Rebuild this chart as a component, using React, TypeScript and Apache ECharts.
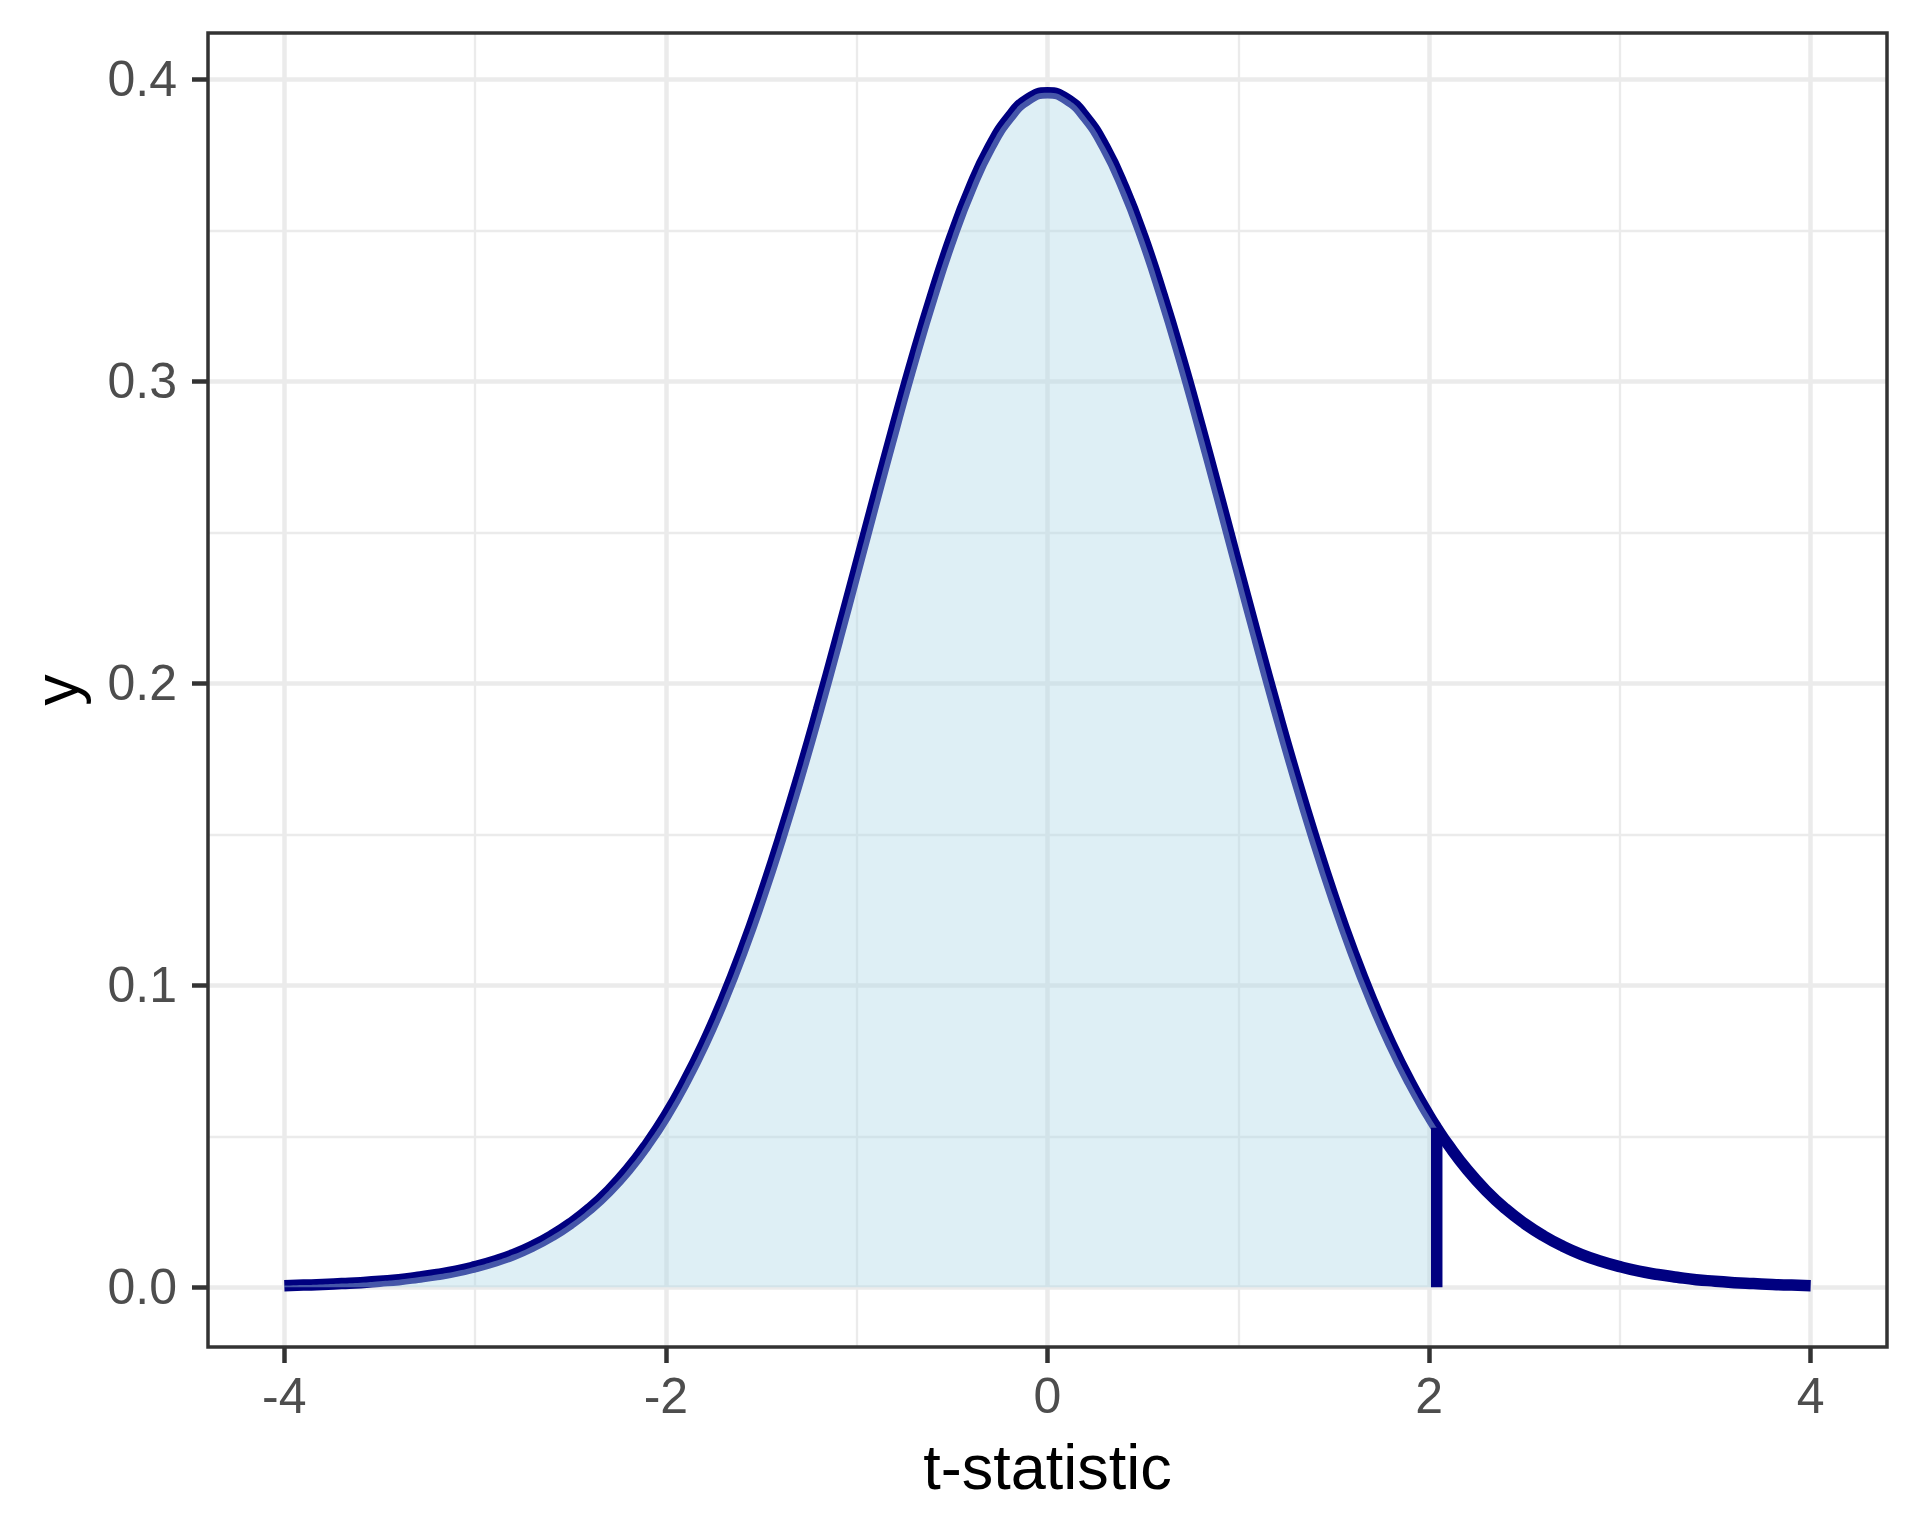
import { useEffect, useRef } from 'react';
import * as echarts from 'echarts';

// t-values and density
const tValues = [
    -4, -3.9, -3.8, -3.7, -3.6, -3.5, -3.4, -3.3, -3.2, -3.1,
    -3, -2.9, -2.8, -2.7, -2.6, -2.5, -2.4, -2.3, -2.2, -2.1,
    -2, -1.9, -1.8, -1.7, -1.6, -1.5, -1.4, -1.3, -1.2, -1.1,
    -1, -0.9, -0.8, -0.7, -0.6, -0.5, -0.4, -0.3, -0.2, -0.1,
    0, 0.1, 0.2, 0.3, 0.4, 0.5, 0.6, 0.7, 0.8, 0.9,
    1, 1.1, 1.2, 1.3, 1.4, 1.5, 1.6, 1.7, 1.8, 1.9,
    2, 2.04, 2.1, 2.2, 2.3, 2.4, 2.5, 2.6, 2.7, 2.8, 2.9,
    3, 3.1, 3.2, 3.3, 3.4, 3.5, 3.6, 3.7, 3.8, 3.9, 4,
];
const density = [
    0.0005, 0.0007, 0.0009, 0.0012, 0.0015, 0.002, 0.0025, 0.0033, 0.0042, 0.0053,
    0.0068, 0.0086, 0.0108, 0.0136, 0.017, 0.0211, 0.026, 0.0319, 0.0389, 0.0472,
    0.0568, 0.068, 0.0807, 0.0951, 0.1112, 0.129, 0.1484, 0.1692, 0.1913, 0.2144,
    0.238, 0.2618, 0.2852, 0.3078, 0.3288, 0.3479, 0.3643, 0.3777, 0.3875, 0.3936,
    0.3956, 0.3936, 0.3875, 0.3777, 0.3643, 0.3479, 0.3288, 0.3078, 0.2852, 0.2618,
    0.238, 0.2144, 0.1913, 0.1692, 0.1484, 0.129, 0.1112, 0.0951, 0.0807, 0.068,
    0.0568, 0.0528, 0.0472, 0.0389, 0.0319, 0.026, 0.0211, 0.017, 0.0136, 0.0108, 0.0086,
    0.0068, 0.0053, 0.0042, 0.0033, 0.0025, 0.002, 0.0015, 0.0012, 0.0009, 0.0007, 0.0005,
];

// critical value where the shaded region stops
const critT = 2.04;
const critY = 0.0528;

const xTicks = [-4, -2, 0, 2, 4];
const xMinorTicks = [-3, -1, 1, 3];
const yTicks = [0, 0.1, 0.2, 0.3, 0.4];
const yMinorTicks = [0.05, 0.15, 0.25, 0.35];

const FONT = '"Liberation Sans", Arial, sans-serif';

const App = () => {
    const chartRef = useRef<HTMLDivElement>(null);

    useEffect(() => {
        const chart = echarts.init(chartRef.current!, null, {renderer: 'svg'});

        const curve = tValues.map((t, i) => [t, density[i]]);
        const shaded = curve.filter(p => p[0] <= critT);

        const major = {color: '#EBEBEB', width: 4.5, type: 'solid'};
        const minor = {color: '#EBEBEB', width: 2.3, type: 'solid'};
        const gridLines = [
            ...xMinorTicks.map(v => ({xAxis: v, lineStyle: minor})),
            ...yMinorTicks.map(v => ({yAxis: v, lineStyle: minor})),
            ...xTicks.map(v => ({xAxis: v, lineStyle: major})),
            ...yTicks.map(v => ({yAxis: v, lineStyle: major})),
        ];

        chart.setOption({
            animation: false,
            backgroundColor: '#fff',
            grid: {
                left: 208,
                right: 33,
                top: 33,
                bottom: 189,
                show: true,
                z: 10,
                backgroundColor: 'transparent',
                borderColor: '#333333',
                borderWidth: 3.5,
            },
            xAxis: {
                type: 'value',
                min: -4.4,
                max: 4.4,
                name: 't-statistic',
                nameLocation: 'middle',
                nameGap: 88,
                nameTextStyle: {fontFamily: FONT, fontSize: 63, color: '#000'},
                axisLine: {show: false, onZero: false},
                splitLine: {show: false},
                axisTick: {
                    show: true,
                    customValues: xTicks,
                    length: 16,
                    lineStyle: {color: '#333333', width: 4.5},
                },
                axisLabel: {
                    customValues: xTicks,
                    margin: 24,
                    fontFamily: FONT,
                    fontSize: 50,
                    color: '#4D4D4D',
                    formatter: (v: number) => String(v),
                },
            },
            yAxis: {
                type: 'value',
                min: -0.0198,
                max: 0.4154,
                name: 'y',
                nameLocation: 'middle',
                nameGap: 121,
                nameTextStyle: {fontFamily: FONT, fontSize: 63, color: '#000'},
                axisLine: {show: false, onZero: false},
                splitLine: {show: false},
                axisTick: {
                    show: true,
                    customValues: yTicks,
                    length: 16,
                    lineStyle: {color: '#333333', width: 4.5},
                },
                axisLabel: {
                    customValues: yTicks,
                    margin: 31,
                    fontFamily: FONT,
                    fontSize: 50,
                    color: '#4D4D4D',
                    formatter: (v: number) => v.toFixed(1),
                },
            },
            series: [
                {
                    // panel grid lines
                    type: 'line',
                    data: [],
                    z: 1,
                    silent: true,
                    markLine: {
                        z: 1,
                        silent: true,
                        symbol: ['none', 'none'],
                        label: {show: false},
                        emphasis: {disabled: true},
                        data: gridLines,
                    },
                },
                {
                    type: 'line',
                    data: curve,
                    smooth: true,
                    showSymbol: false,
                    z: 3,
                    lineStyle: {color: '#000080', width: 11.5},
                },
                {
                    type: 'line',
                    data: shaded,
                    smooth: true,
                    showSymbol: false,
                    z: 4,
                    lineStyle: {width: 0},
                    areaStyle: {color: 'rgba(173,216,230,0.4)', opacity: 1},
                },
                {
                    type: 'line',
                    data: [
                        [critT, 0],
                        [critT, critY],
                    ],
                    showSymbol: false,
                    z: 5,
                    lineStyle: {color: '#000080', width: 11.5},
                },
            ],
        });

        return () => {
            chart.dispose();
        };
    }, []);

    return (
        <div
            ref={chartRef}
            style={{position: 'absolute', left: 0, top: 0, width: '1920px', height: '1536px'}}
        />
    );
};

export default App;
